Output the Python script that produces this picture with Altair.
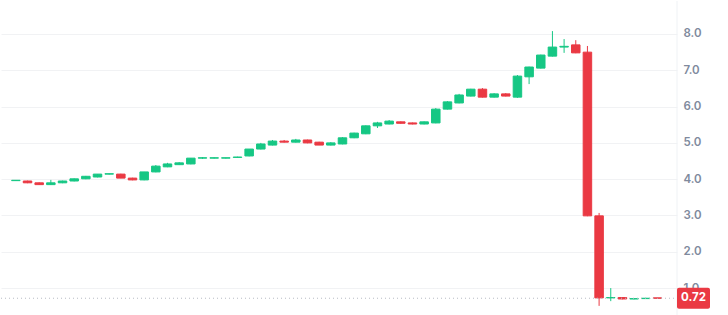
import altair as alt
import pandas as pd

opens = [3.96, 3.95, 3.90, 3.85, 3.90, 3.95, 4.01, 4.06, 4.14, 4.14, 4.03, 3.98, 4.20, 4.34, 4.40, 4.42,
         4.58, 4.58, 4.58, 4.60, 4.64, 4.83, 4.94, 5.05, 5.02, 5.08, 5.02, 4.94, 4.97, 5.14, 5.25, 5.47,
         5.52, 5.58, 5.55, 5.52, 5.55, 5.93, 6.10, 6.29, 6.48, 6.26, 6.35, 6.26, 6.82, 7.06, 7.39, 7.64,
         7.70, 7.50, 2.99, 0.73, 0.74, 0.70, 0.71, 0.73]
highs = [3.97, 3.96, 3.91, 3.98, 3.96, 4.02, 4.09, 4.14, 4.15, 4.15, 4.04, 4.20, 4.39, 4.45, 4.47, 4.58,
         4.61, 4.60, 4.59, 4.62, 4.83, 5.00, 5.08, 5.08, 5.11, 5.09, 5.03, 5.02, 5.16, 5.28, 5.48, 5.58,
         5.63, 5.59, 5.56, 5.59, 5.96, 6.15, 6.35, 6.49, 6.51, 6.37, 6.37, 6.87, 7.10, 7.43, 8.08, 7.86,
         7.83, 7.67, 3.07, 1.00, 0.75, 0.72, 0.73, 0.74]
lows = [3.95, 3.89, 3.84, 3.84, 3.89, 3.94, 4.00, 4.05, 4.13, 4.03, 3.97, 3.97, 4.19, 4.33, 4.39, 4.41,
        4.56, 4.57, 4.57, 4.59, 4.63, 4.82, 4.93, 5.01, 5.01, 4.99, 4.94, 4.93, 4.96, 5.13, 5.24, 5.41,
        5.51, 5.53, 5.51, 5.51, 5.54, 5.92, 6.09, 6.28, 6.25, 6.25, 6.28, 6.24, 6.62, 7.05, 7.38, 7.48,
        7.47, 2.98, 0.51, 0.64, 0.69, 0.69, 0.70, 0.71]
closes = [3.97, 3.90, 3.85, 3.90, 3.95, 4.01, 4.08, 4.14, 4.15, 4.03, 3.98, 4.20, 4.36, 4.42, 4.45, 4.58,
          4.59, 4.59, 4.59, 4.61, 4.83, 4.97, 5.05, 5.02, 5.08, 5.00, 4.94, 5.00, 5.14, 5.27, 5.47, 5.55,
          5.60, 5.54, 5.52, 5.58, 5.93, 6.13, 6.32, 6.48, 6.26, 6.35, 6.29, 6.84, 7.09, 7.42, 7.64, 7.66,
          7.48, 2.99, 0.73, 0.74, 0.70, 0.71, 0.72, 0.72]
tick_values = [1, 2, 3, 4, 5, 6, 7, 8]
last_price = 0.72

GREEN = "#16c784"
RED = "#ea3943"

df = pd.DataFrame({
    "i": list(range(len(opens))),
    "open": opens, "high": highs, "low": lows, "close": closes,
})
df["dir"] = ["up" if c >= o else "down" for o, c in zip(opens, closes)]

xs = alt.Scale(domain=[-0.845, 56.25], nice=False, zero=False)
ys = alt.Scale(domain=[0.231, 8.909], nice=False, zero=False)
col = alt.Color("dir:N", scale=alt.Scale(domain=["up", "down"], range=[GREEN, RED]), legend=None)

base = alt.Chart(df)

wicks = base.mark_rule(strokeWidth=1).encode(
    x=alt.X("i:Q", scale=xs, axis=None),
    y=alt.Y("low:Q", scale=ys, axis=alt.Axis(
        orient="right", values=tick_values, format=".1f", domain=False, ticks=False,
        grid=True, gridColor="#f1f2f4", gridWidth=1, labelColor="#808a9d",
        labelFont="Inter", labelFontSize=11.5, labelFontWeight=600, labelPadding=6,
        title=None)),
    y2="high:Q",
    color=col,
)

bodies = base.mark_bar(size=8.5, strokeWidth=1).encode(
    x=alt.X("i:Q", scale=xs),
    y=alt.Y("open:Q", scale=ys),
    y2="close:Q",
    color=col,
    stroke=col,
)

last_df = pd.DataFrame({"price": [last_price], "label": [f"{last_price:.2f}"]})
lb = alt.Chart(last_df)

price_line = lb.mark_rule(strokeDash=[1, 3], color="#b8bcc4", strokeWidth=1).encode(
    y=alt.Y("price:Q", scale=ys),
    x=alt.value(0), x2=alt.value(676),
)

right_edge = lb.mark_rule(color="#eff2f5", strokeWidth=1).encode(
    x=alt.value(676), y=alt.value(0), y2=alt.value(315),
)

label_box = lb.mark_rect(color=RED, cornerRadius=2, height=21).encode(
    y=alt.Y("price:Q", scale=ys),
    x=alt.value(676), x2=alt.value(709),
)

label_text = lb.mark_text(color="white", font="Inter", fontSize=11.5, fontWeight=700,
                          align="center", baseline="middle").encode(
    y=alt.Y("price:Q", scale=ys),
    x=alt.value(692.5),
    text="label:N",
)

chart = alt.layer(wicks, bodies, price_line, right_edge, label_box, label_text).properties(
    width=676, height=315, padding=0, background="white"
).configure_view(stroke=None)

chart.save("out.html", embed_options={"renderer": "svg", "actions": False})
